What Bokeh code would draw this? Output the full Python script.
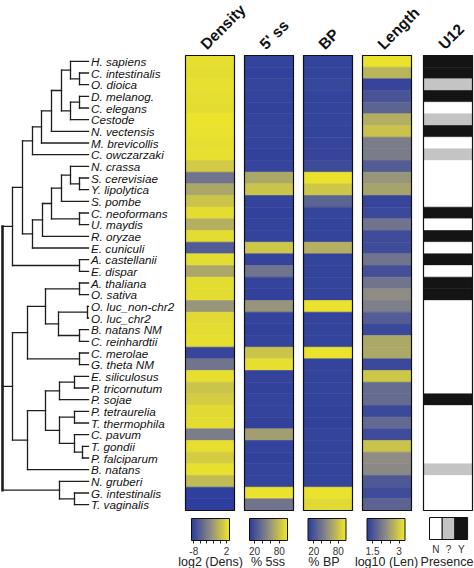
import numpy as np
from bokeh.plotting import figure
from bokeh.models import (Range1d, ColumnDataSource, LinearColorMapper, ColorBar,
                          FixedTicker, CategoricalColorMapper, NumeralTickFormatter)
from bokeh.core.properties import value
from bokeh.embed import file_html
from bokeh.resources import INLINE

# ---------------- data ----------------
species = ["H. sapiens", "C. intestinalis", "O. dioica", "D. melanog.", "C. elegans",
           "Cestode", "N. vectensis", "M. brevicollis", "C. owczarzaki", "N. crassa",
           "S. cerevisiae", "Y. lipolytica", "S. pombe", "C. neoformans", "U. maydis",
           "R. oryzae", "E. cuniculi", "A. castellanii", "E. dispar", "A. thaliana",
           "O. sativa", "O. luc_non-chr2", "O. luc_chr2", "B. natans NM", "C. reinhardtii",
           "C. merolae", "G. theta NM", "E. siliculosus", "P. tricornutum", "P. sojae",
           "P. tetraurelia", "T. thermophila", "C. pavum", "T. gondii", "P. falciparum",
           "B. natans", "N. gruberi", "G. intestinalis", "T. vaginalis"]

density = [2.3, 2.2, 2.4, 2.3, 2.2, 2.6, 2.5, 2.3, 2.4, 1.0, -4.6, -1.2, 0.6, 2.2, -0.6,
           2.2, -6.4, 2.1, -1.2, 2.2, 2.2, -2.3, 2.0, 2.2, 2.3, -8.0, -4.6, 2.3, 0.6, 1.2,
           2.0, 2.2, -4.0, 2.3, 1.2, 2.4, 0.0, -8.5, -8.6]
ss5 = [12, 11, 13, 12, 11, 12, 13, 12, 11, 13, 68, 82, 12, 11, 12, 12, 83, 12, 40, 12,
       11, 58, 12, 11, 12, 82, 95, 12, 11, 12, 12, 11, 63, 12, 11, 12, 12, 97, 40]
bp = [10, 10, 12, 10, 10, 11, 10, 11, 11, 15, 96, 82, 29, 11, 10, 10, 71, 10, 10, 10,
      10, 96, 10, 10, 10, 96, 10, 10, 10, 10, 9, 9, 10, 10, 10, 10, 10, 96, 92]
length = [3.27, 2.73, 1.30, 1.51, 1.73, 2.65, 2.90, 2.05, 2.05, 1.62, 2.37, 2.52, 1.30,
          1.36, 1.94, 1.40, 1.40, 1.94, 1.45, 1.94, 2.26, 2.09, 1.62, 1.36, 2.58, 2.58,
          1.36, 2.94, 1.83, 1.83, 1.36, 1.79, 1.40, 2.90, 2.26, 2.22, 1.58, 1.40, 1.73]
u12 = ["Y", "Y", "?", "Y", "N", "?", "Y", "N", "?", "N", "N", "N", "N", "Y", "N", "Y",
       "N", "Y", "N", "Y", "Y", "N", "N", "N", "N", "N", "N", "N", "N", "Y", "N", "N",
       "N", "N", "N", "?", "N", "N", "N"]

presence_levels = ["N", "?", "Y"]
column_titles = ["Density", "5' ss", "BP", "Length", "U12"]
scale_titles = ["log2 (Dens)", "% 5ss", "% BP", "log10 (Len)", "Presence"]

dens_range = (-8.7, 2.9)
ss5_range = (8, 100)
bp_range = (6, 99)
len_range = (1.19, 3.33)
dens_ticks, dens_minor = [-8, 2], [-6, -4, -2, 0]
pct_ticks, pct_minor = [20, 80], [40, 60]
len_ticks, len_minor = [1.5, 3], [2, 2.5]

# tree: [depth, children...]; leaves are species names (depth = TIP)
TIP = 86
tree = [0,
        [10,
         [20,
          [30,
           [39,
            [49,
             [59,
              [68, "H. sapiens", [77, "C. intestinalis", "O. dioica"]],
              [68, [77, "D. melanog.", "C. elegans"], "Cestode"]],
             "N. vectensis"],
            "M. brevicollis"],
           "C. owczarzaki"],
          [30,
           [40,
            [49,
             [59,
              [68, "N. crassa", [77, "S. cerevisiae", "Y. lipolytica"]],
              "S. pombe"],
             [77, "C. neoformans", "U. maydis"]],
            "R. oryzae"],
           "E. cuniculi"]],
         [77, "A. castellanii", "E. dispar"]],
        [10,
         [25,
          [43,
           [77, "A. thaliana", "O. sativa"],
           [56,
            [85, "O. luc_non-chr2", "O. luc_chr2"],
            [77, "B. natans NM", "C. reinhardtii"]]],
          [77, "C. merolae", "G. theta NM"]],
         [25,
          [43,
           [57, [72, "E. siliculosus", "P. tricornutum"], "P. sojae"],
           [57, [72, "P. tetraurelia", "T. thermophila"],
            [72, "C. pavum", [80, "T. gondii", "P. falciparum"]]]],
          "B. natans"]],
        [57, "N. gruberi", [72, "G. intestinalis", "T. vaginalis"]]]

# ---------------- layout constants ----------------
W, H = 474, 568
TOP, BOT = 55, 510
N = len(species)
ROW_H = (BOT - TOP) / N


def py(p):
    return (p - TOP) / ROW_H - 0.5


TREE_X0 = 2
col_centers = [209.5, 268.5, 327.5, 386.5, 447.5]
COL_W = 49

p = figure(width=W, height=H, x_range=Range1d(0, W), y_range=Range1d(py(H), py(0)),
           output_backend="svg", toolbar_location=None, min_border=0,
           x_axis_location=None, y_axis_location=None, outline_line_color=None)
p.xgrid.visible = False
p.ygrid.visible = False
p.background_fill_color = "white"

# ---------------- dendrogram ----------------
sx0, sx1, sy0, sy1 = [], [], [], []


def walk(node):
    if isinstance(node, str):
        return TREE_X0 + TIP, species.index(node)
    depth, *children = node
    pts = [walk(c) for c in children]
    x = TREE_X0 + depth
    for cx, cy in pts:
        sx0.append(x); sx1.append(cx); sy0.append(cy); sy1.append(cy)
    ys = [c[1] for c in pts]
    sx0.append(x); sx1.append(x); sy0.append(min(ys)); sy1.append(max(ys))
    return x, (min(ys) + max(ys)) / 2


walk(tree)
widths = [2.6 if (a == TREE_X0 and b == TREE_X0) else 1.3 for a, b in zip(sx0, sx1)]
p.segment(x0=sx0, y0=sy0, x1=sx1, y1=sy1, line_color="#1e1e1e",
          line_width=widths, line_cap="square")

p.text(x=[TREE_X0 + TIP + 2.5] * N, y=list(range(N)), text=species,
       text_font=value("Liberation Sans"), text_font_style="italic",
       text_font_size="11.7px", text_baseline="middle", text_align="left",
       text_color="#111111")

# ---------------- heatmap ----------------
blue, mid, yellow = np.array([44, 60, 158]), np.array([142, 140, 132]), np.array([240, 232, 38])
palette = []
for t in np.linspace(0, 1, 256):
    c = blue + (mid - blue) * (t / 0.5) if t <= 0.5 else mid + (yellow - mid) * ((t - 0.5) / 0.5)
    palette.append("#%02x%02x%02x" % tuple(int(round(v)) for v in c))

src = ColumnDataSource(dict(row=list(range(N)), density=density, ss5=ss5, bp=bp,
                            length=length, u12=u12))

mappers = [LinearColorMapper(palette=palette, low=lo, high=hi)
           for lo, hi in (dens_range, ss5_range, bp_range, len_range)]
for field, cx, m in zip(["density", "ss5", "bp", "length"], col_centers[:4], mappers):
    cmap = {"field": field, "transform": m}
    p.rect(x=cx, y="row", width=COL_W, height=1, source=src,
           fill_color=cmap, line_color=cmap, line_width=0.6)

u12_mapper = CategoricalColorMapper(factors=presence_levels,
                                    palette=["#ffffff", "#c4c4c4", "#141414"])
u12_map = {"field": "u12", "transform": u12_mapper}
p.rect(x=col_centers[4], y="row", width=COL_W, height=1, source=src,
       fill_color=u12_map, line_color=u12_map, line_width=0.6)

# column outlines
p.rect(x=col_centers, y=(N - 1) / 2, width=COL_W, height=N, fill_color=None,
       line_color="#111111", line_width=1.2)

# column headers
p.text(x=[c - 7 for c in col_centers], y=py(46), text=column_titles, angle=np.pi / 4,
       text_font=value("Liberation Sans"), text_font_size="15.5px",
       text_font_style="bold", text_align="left", text_baseline="alphabetic",
       text_color="#111111")

# ---------------- colour bars ----------------
CB_W, CB_H = 38, 22
cb_lefts = [191, 249, 307.5, 366.5]
cb_specs = [(dens_ticks, dens_minor, "0"), (pct_ticks, pct_minor, "0"),
            (pct_ticks, pct_minor, "0"), (len_ticks, len_minor, "0.[0]")]
for m, left, (tk, mn, fmt) in zip(mappers, cb_lefts, cb_specs):
    cb = ColorBar(color_mapper=m, orientation="horizontal", location=(left, 11),
                  width=CB_W, height=CB_H, padding=0, margin=0,
                  ticker=FixedTicker(ticks=tk, minor_ticks=mn),
                  formatter=NumeralTickFormatter(format=fmt),
                  major_tick_in=0, major_tick_out=3, minor_tick_in=0, minor_tick_out=3,
                  major_tick_line_color="#222222", minor_tick_line_color="#222222",
                  bar_line_color="#111111", bar_line_width=1,
                  major_label_text_font="Liberation Sans",
                  major_label_text_font_size="10px", major_label_text_color="#333333",
                  label_standoff=3, background_fill_color=None, border_line_color=None)
    p.add_layout(cb, "center")

# presence legend
leg_left, leg_w = 429, 12.7
leg_x = [leg_left + leg_w * (i + 0.5) for i in range(len(presence_levels))]
p.rect(x=leg_x, y=py(528), width=leg_w, height=22 / ROW_H,
       fill_color=u12_mapper.palette, line_color="#111111", line_width=1)
p.text(x=leg_x, y=py(549), text=presence_levels, text_font=value("Liberation Sans"),
       text_font_size="10px", text_align="center", text_baseline="middle",
       text_color="#333333")

title_x = [210, 267.5, 323.5, 386, 446.5]
p.text(x=title_x, y=py(561), text=scale_titles, text_font=value("Liberation Sans"),
       text_font_size="12.5px", text_align="center", text_baseline="middle",
       text_color="#222222")

open("out.html", "w").write(file_html(p, INLINE))
